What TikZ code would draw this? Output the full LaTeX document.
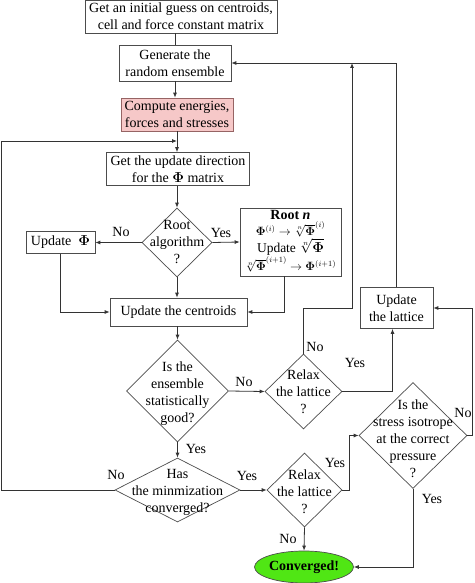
\documentclass[tikz,border=0pt]{standalone}
\usepackage{amsmath}
\usepackage[no-math]{fontspec}
\setmainfont{Liberation Serif}
\usetikzlibrary{shapes.geometric,arrows.meta}
\definecolor{linec}{rgb}{0.2,0.2,0.2}
\definecolor{boxc}{rgb}{0.3,0.3,0.3}
\definecolor{pinkf}{RGB}{246,200,200}
\definecolor{pinkd}{RGB}{150,100,100}
\definecolor{greenf}{RGB}{80,230,20}
\newcommand{\fs}{\fontsize{14}{17}\selectfont}
\tikzset{
  box/.style={draw=boxc, line width=0.7pt, inner sep=0pt, align=center, font=\fs},
  dia/.style={draw=boxc, diamond, inner sep=0pt, line width=0.7pt},
  dtext/.style={align=center, font=\fs, inner sep=0pt},
  lab/.style={font=\fs, inner sep=0pt},
  rtext/.style={font=\fontsize{12}{14}\selectfont, inner sep=0pt, anchor=north},
  arr/.style={-{Latex[length=5pt,width=4pt]}, draw=linec, line width=0.8pt},
  ln/.style={draw=linec, line width=0.8pt}
}
\begin{document}
\begin{tikzpicture}[x=1pt,y=-1pt]
\useasboundingbox (0,0) rectangle (474,583);
% boxes
\node[box, minimum width=192pt, minimum height=33pt] (b1) at (181,16.5) {Get an initial guess on centroids,\\cell and force constant matrix};
\node[box, minimum width=112pt, minimum height=36pt] (b2) at (175,63) {Generate the\\random ensemble};
\node[box, draw=pinkd, fill=pinkf, minimum width=112pt, minimum height=33pt] (b3) at (177,114.5) {Compute energies,\\forces and stresses};
\node[box, minimum width=143pt, minimum height=33pt] (b4) at (178,169) {Get the update direction\\for the $\mathbf{\Phi}$ matrix};
\node[box, minimum width=69pt, minimum height=22pt] (phi) at (60.5,242.5) {Update~ $\mathbf{\Phi}$};
\node[box, minimum width=101pt, minimum height=68pt] (rootn) at (290.5,242) {};
\node[rtext, font=\fs] (rn1) at ([yshift=-2pt]rootn.north) {\textbf{Root \textit{n}}};
\node[rtext] (rn2) at ([yshift=-2pt]rn1.south) {$\mathbf{\Phi}^{(i)}\rightarrow\sqrt[n]{\mathbf{\Phi}}^{(i)}$};
\node[rtext, font=\fontsize{13.5}{15}\selectfont] (rn3) at ([yshift=-1.5pt]rn2.south) {Update $\sqrt[n]{\mathbf{\Phi}}$};
\node[rtext] (rn4) at ([yshift=-1.5pt]rn3.south) {$\sqrt[n]{\mathbf{\Phi}}^{(i+1)}\rightarrow\mathbf{\Phi}^{(i+1)}$};
\node[box, minimum width=137pt, minimum height=28pt] (cent) at (178.5,312) {Update the centroids};
\node[box, minimum width=73pt, minimum height=41pt] (lat) at (396.5,308) {Update\\the lattice};
% diamonds
\node[dia, minimum width=70pt, minimum height=69pt] (root) at (177,242.5) {};
\node[dtext] at (root) {Root\\algorithm\\?};
\node[dia, minimum width=102pt, minimum height=102pt] (stat) at (177.5,391) {};
\node[dtext] at ([yshift=-3pt]stat.center) {Is the\\ensemble\\statistically\\good?};
\node[dia, minimum width=77pt, minimum height=75pt] (relax1) at (303.5,391.5) {};
\node[dtext] at (relax1) {Relax\\the lattice\\?};
\node[dia, minimum width=125pt, minimum height=64pt] (has) at (177.5,490) {};
\node[dtext] at ([yshift=-2pt]has.center) {Has\\the minmization\\converged?};
\node[dia, minimum width=75pt, minimum height=74pt] (relax2) at (304.5,490) {};
\node[dtext] at ([yshift=-2pt]relax2.center) {Relax\\the lattice\\?};
\node[dia, minimum width=108pt, minimum height=106pt] (stress) at (413,435.5) {};
\node[dtext] at ([yshift=-3pt]stress.center) {Is the\\stress isotrope\\at the correct\\pressure\\?};
\node[draw=boxc, fill=greenf, ellipse, line width=0.7pt, minimum width=86pt, minimum height=32pt, inner sep=0pt, font=\fs\bfseries] (conv) at (304,567) {Converged!};
% coordinates
\coordinate (lj) at (177,141);
\coordinate (lw) at (1.5,141);
\coordinate (lsw) at (1.5,490);
\coordinate (r1a) at (303.5,308);
\coordinate (r1b) at (352,308);
\coordinate (j1) at (352,63);
\coordinate (sr) at (472.5,435.5);
\coordinate (r2r) at (349,490);
% connectors
\draw[ln] (b1.south -| b2.north) -- (b2.north);
\draw[arr] (b2.south) -- (b2.south |- b3.north);
\draw[arr] (b3.south) -- (b3.south |- b4.north);
\draw[arr] (has.west) -- (lsw) -- (lw) -- (lj);
\draw[arr] (b4.south -| root.north) -- (root.north);
\draw[arr] (root.west) -- (phi.east);
\draw[arr] (root.east) -- (rootn.west);
\draw[arr] (root.south) -- (cent.north -| root.south);
\draw[arr] (phi.south) |- (cent.west);
\draw[arr] ([xshift=-6pt]rootn.south) |- (cent.east);
\draw[arr] (cent.south -| stat.north) -- (stat.north);
\draw[arr] (stat.east) -- (relax1.west);
\draw[arr] (stat.south) -- (has.north);
\draw[arr] (relax1.north) -- (r1a) -- (r1b) -- (j1);
\draw[arr] (relax1.east) -| ([xshift=-4pt]lat.south);
\draw[arr] (lat.north) -- (lat.north |- b2.east) -- (b2.east);
\draw[arr] (has.east) -- (relax2.west);
\draw[arr] (relax2.east) -- (r2r) |- (stress.west);
\draw[arr] (relax2.south) -- (conv.north);
\draw[arr] (stress.east) -- (sr) |- (lat.east);
\draw[arr] (stress.south) |- (conv.east);
% labels
\node[lab] at (121,232) {No};
\node[lab] at (221,233) {Yes};
\node[lab] at (244,382) {No};
\node[lab] at (196,449) {Yes};
\node[lab] at (116,475) {No};
\node[lab] at (247,476) {Yes};
\node[lab] at (315,347) {No};
\node[lab] at (355,363) {Yes};
\node[lab] at (335,463) {Yes};
\node[lab] at (288,539) {No};
\node[lab] at (432,499) {Yes};
\node[lab] at (463,413) {No};
\end{tikzpicture}
\end{document}
